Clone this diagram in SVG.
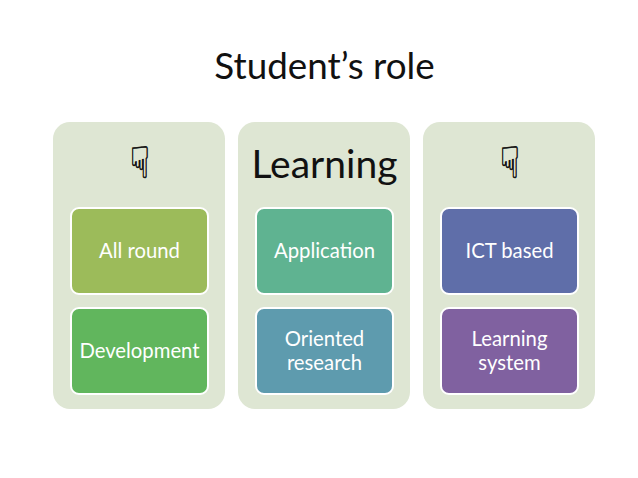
<svg xmlns="http://www.w3.org/2000/svg" width="638" height="478" viewBox="0 0 638 478">
<style>
text{font-family:"Lato","Open Sans","Liberation Sans",sans-serif;text-anchor:middle}
.panel{fill:#dee6d3}
.box{stroke:#fff;stroke-width:2}
.lbl{font-size:20.300px;fill:#fff}
.title{font-size:36.800px;fill:#111}
.head{font-size:39px;fill:#111}
.hand{font-family:"DejaVu Sans",sans-serif;font-size:40px;fill:#111;stroke:#111;stroke-width:.6}
</style>
<rect width="638" height="478" fill="#fff"/>
<text class="title" x="324.500" y="79">Student’s role</text>
<g id="panel-1">
<rect class="panel" x="53" y="122" width="172" height="287" rx="17"/>
<text class="hand" transform="translate(140 177.500) scale(.82 1.1)" x="0" y="0">☟</text>
</g>
<g id="panel-2">
<rect class="panel" x="238" y="122" width="172" height="287" rx="17"/>
<text class="head" x="324.500" y="178">Learning</text>
</g>
<g id="panel-3">
<rect class="panel" x="423" y="122" width="172" height="287" rx="17"/>
<text class="hand" transform="translate(510 177.500) scale(.82 1.1)" x="0" y="0">☟</text>
</g>
<g id="all-round">
<rect class="box" x="71" y="208" width="137" height="86" rx="8" fill="#9cbb5a"/>
<text class="lbl" x="139.500" y="258">All round</text>
</g>
<g id="development">
<rect class="box" x="71" y="308" width="137" height="86" rx="8" fill="#61b65d"/>
<text class="lbl" x="139.500" y="358">Development</text>
</g>
<g id="application">
<rect class="box" x="256" y="208" width="137" height="86" rx="8" fill="#5fb391"/>
<text class="lbl" x="324.500" y="258">Application</text>
</g>
<g id="oriented-research">
<rect class="box" x="256" y="308" width="137" height="86" rx="8" fill="#5e9bae"/>
<text class="lbl" x="324.500" y="346">Oriented</text>
<text class="lbl" x="324.500" y="370">research</text>
</g>
<g id="ict-based">
<rect class="box" x="441" y="208" width="137" height="86" rx="8" fill="#5f6ea9"/>
<text class="lbl" x="509.500" y="258">ICT based</text>
</g>
<g id="learning-system">
<rect class="box" x="441" y="308" width="137" height="86" rx="8" fill="#8061a0"/>
<text class="lbl" x="509.500" y="346">Learning</text>
<text class="lbl" x="509.500" y="370">system</text>
</g>
<g id="connectors"></g>
</svg>
